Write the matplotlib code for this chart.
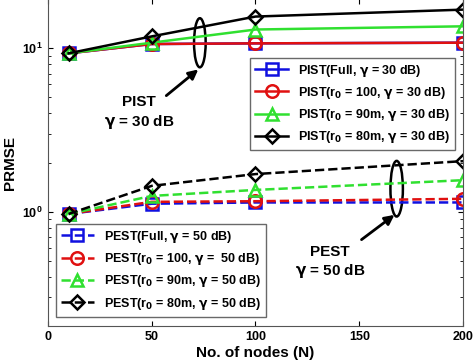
import numpy as np
import matplotlib.pyplot as plt
from matplotlib.patches import Ellipse

plt.rcParams['font.family'] = ['Liberation Sans', 'DejaVu Sans']
plt.rcParams['font.weight'] = 'bold'
plt.rcParams['mathtext.default'] = 'bf'

nodes = [10, 50, 100, 200]

pist_full = [9.3, 10.6, 10.7, 10.8]
pist_100 = [9.3, 10.6, 10.7, 10.8]
pist_90 = [9.3, 10.8, 13.0, 13.6]
pist_80 = [9.3, 11.8, 15.6, 17.2]

pest_full = [0.97, 1.12, 1.14, 1.14]
pest_100 = [0.97, 1.15, 1.16, 1.2]
pest_90 = [0.97, 1.25, 1.36, 1.56]
pest_80 = [0.97, 1.44, 1.70, 2.04]

pist_labels = ['PIST(Full, $\\gamma$ = 30 dB)',
               'PIST(r$_0$ = 100, $\\gamma$ = 30 dB)',
               'PIST(r$_0$ = 90m, $\\gamma$ = 30 dB)',
               'PIST(r$_0$ = 80m, $\\gamma$ = 30 dB)']
pest_labels = ['PEST(Full, $\\gamma$ = 50 dB)',
               'PEST(r$_0$ = 100, $\\gamma$ =  50 dB)',
               'PEST(r$_0$ = 90m, $\\gamma$ = 50 dB)',
               'PEST(r$_0$ = 80m, $\\gamma$ = 50 dB)']

colors = ['#1010e0', '#e01010', '#30e030', 'black']
markers = ['s', 'o', '^', 'D']
msizes = [9, 9, 9, 7]

fig = plt.figure(figsize=(4.74, 3.64), dpi=100)
ax = fig.add_axes([0.101, 0.104, 0.876, 0.899])

pist = [pist_full, pist_100, pist_90, pist_80]
pest = [pest_full, pest_100, pest_90, pest_80]

h1 = []
for i in range(4):
    l, = ax.plot(nodes, pist[i], '-', color=colors[i], marker=markers[i],
                 ms=msizes[i], mfc='none', mew=1.8, lw=1.8, label=pist_labels[i])
    h1.append(l)
h2 = []
for i in range(4):
    l, = ax.plot(nodes, pest[i], '--', color=colors[i], marker=markers[i],
                 ms=msizes[i], mfc='none', mew=1.8, lw=1.8, label=pest_labels[i])
    h2.append(l)

ax.set_yscale('log')
ax.set_xlim(0, 200)
ax.set_ylim(0.2, 20)
ax.set_xticks([0, 50, 100, 150, 200])
ax.tick_params(which='both', direction='in', top=True, right=True, labelsize=9)
ax.set_xlabel('No. of nodes (N)', fontsize=11, fontweight='bold', labelpad=2)
ax.set_ylabel('PRMSE', fontsize=11, fontweight='bold', labelpad=4)
for s in ax.spines.values():
    s.set_color('#555555')

leg1 = ax.legend(handles=h1, loc='upper right', bbox_to_anchor=(0.995, 0.84),
                 fontsize=9, handlelength=2.6, fancybox=False, edgecolor='#444444',
                 borderpad=0.4, labelspacing=0.5)
ax.add_artist(leg1)
ax.legend(handles=h2, loc='lower left', bbox_to_anchor=(0.005, 0.01),
          fontsize=9, handlelength=2.6, fancybox=False, edgecolor='#444444',
          borderpad=0.4, labelspacing=0.5)

# arrows and notes
ax.annotate('', xy=(73.5, 7.6), xytext=(56, 5.0),
            arrowprops=dict(arrowstyle='-|>', color='black', lw=2, mutation_scale=14))
ax.annotate('', xy=(168, 0.98), xytext=(150, 0.66),
            arrowprops=dict(arrowstyle='-|>', color='black', lw=2, mutation_scale=14))
ax.text(44, 4.0, 'PIST\n$\\gamma$ = 30 dB', ha='center', va='center', fontsize=11,
        fontweight='bold', linespacing=1.3)
ax.text(136, 0.49, 'PEST\n$\\gamma$ = 50 dB', ha='center', va='center', fontsize=11,
        fontweight='bold', linespacing=1.3)

# ellipses drawn in axes coords to keep shape on log axis
ax.add_patch(Ellipse((0.366, 0.866), 0.028, 0.15, transform=ax.transAxes,
                     fill=False, lw=1.8, color='black'))
ax.add_patch(Ellipse((0.84, 0.42), 0.03, 0.17, transform=ax.transAxes,
                     fill=False, lw=1.8, color='black'))

fig.savefig('out.png', dpi=100)
